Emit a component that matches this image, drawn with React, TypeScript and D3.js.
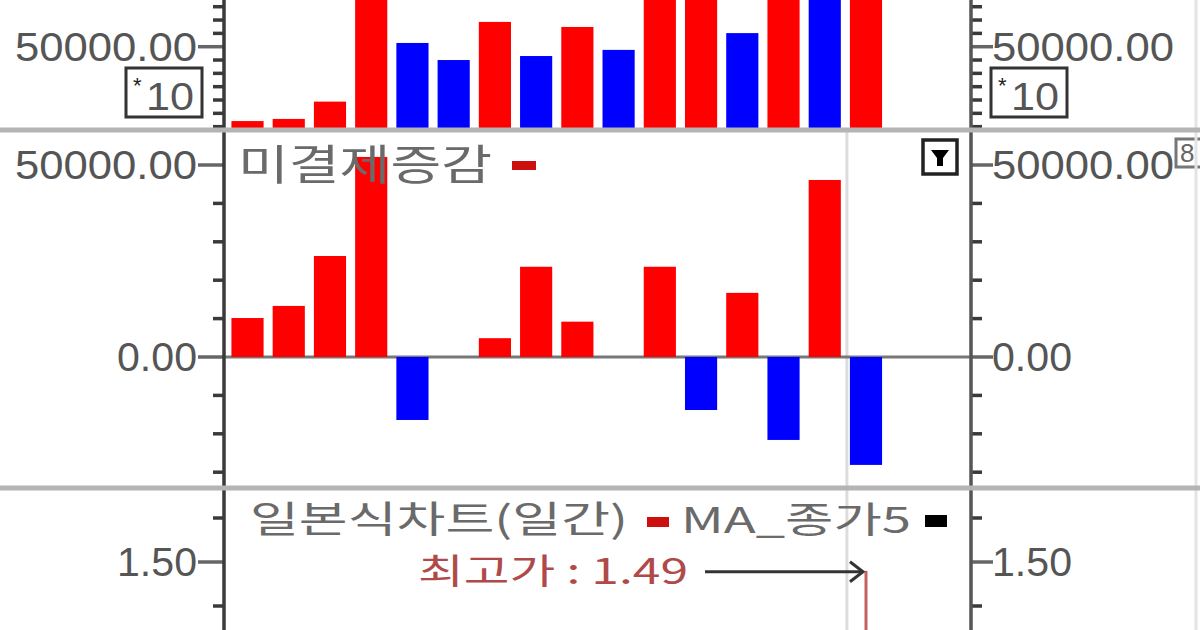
import React from 'react';
import * as d3 from 'd3';

// ---- data ----
const days = ['01', '02', '03', '04', '05', '06', '07', '08', '09', '10', '11', '12', '13', '14', '15', '16'];
// top panel (volume, x10)
const volume = [22100, 22900, 29400, 72000, 51400, 45000, 59300, 46500, 57400, 48800, 75000, 70000, 55100, 72000, 80000, 78000];
const volumeDir = ['up', 'up', 'up', 'up', 'down', 'down', 'up', 'down', 'up', 'down', 'up', 'up', 'down', 'up', 'down', 'up'];
// middle panel (open interest change)
const oiChange = [10150, 13300, 26300, 52100, -16400, 0, 4900, 23500, 9200, 0, 23500, -13800, 16700, -21600, 46100, -28100];
// bottom panel (candles) – only the last candle is visible
const lastHigh = 1.49;
const lastLow = 1.30;
const volMajorTicks = [50000];
const oiMajorTicks = [0, 50000];
const priceMajorTicks = [1.5];
const oiLegend = '미결제증감';
const priceLegend = '일본식차트(일간)';
const maLegend = 'MA_종가5';
const highLabel = '최고가 : 1.49';

const W = 1200;
const H = 630;
const RED = '#ff0000';
const BLUE = '#0000ff';
const AXIS = '#3a3a3a';
const TXT = '#555';
const NUMFONT = '"Liberation Sans", Arial, sans-serif';
const KRFONT = '"Noto Sans CJK KR", "Noto Sans", sans-serif';

export default function App() {
  const leftX = 224;
  const rightX = 971;
  const sep1 = 130;
  const sep2 = 488;

  const x = d3.scaleBand<string>().domain(days).range([226.9, 886.6]).paddingInner(0.22).paddingOuter(0.11);
  const bw = x.bandwidth();

  const yVol = d3.scaleLinear().domain([18750, 50000]).range([130, 46.7]);
  const yOI = d3.scaleLinear().domain([0, 50000]).range([357, 165]);
  const yPrice = d3.scaleLinear().domain([1.45, 1.5]).range([606, 562]);

  const volMinor = d3.range(20000, 70001, 5000).filter(v => !volMajorTicks.includes(v)).filter(v => yVol(v) > 2 && yVol(v) < sep1 - 3);
  const oiMinor = d3.range(-30000, 60001, 10000).filter(v => !oiMajorTicks.includes(v)).filter(v => yOI(v) > sep1 + 4 && yOI(v) < sep2 - 4);
  const priceMinor = d3.range(1.4, 1.601, 0.05).filter(v => Math.abs(v - 1.5) > 0.001).filter(v => yPrice(v) > sep2 + 4 && yPrice(v) < H);

  const fmt2 = d3.format('.2f');

  const minorTicks = (ys: number[], key: string) => (
    <g key={key}>
      {ys.map((yy, i) => (
        <g key={i}>
          <line x1={leftX - 11} x2={leftX} y1={yy} y2={yy} stroke={AXIS} strokeWidth={3.5} />
          <line x1={rightX} x2={rightX + 11} y1={yy} y2={yy} stroke={AXIS} strokeWidth={3.5} />
        </g>
      ))}
    </g>
  );

  const majorTick = (yy: number, label: string, key: string, wide: boolean) => (
    <g key={key}>
      <line x1={leftX - 26} x2={leftX} y1={yy} y2={yy} stroke="#666" strokeWidth={3.5} />
      <line x1={rightX} x2={rightX + 22} y1={yy} y2={yy} stroke="#666" strokeWidth={3.5} />
      <text x={197} y={yy} dy="0.36em" textAnchor="end" fontFamily={NUMFONT} fontSize={40} fill={TXT}
        textLength={wide ? 182 : 80} lengthAdjust="spacingAndGlyphs">{label}</text>
      <text x={992} y={yy} dy="0.36em" textAnchor="start" fontFamily={NUMFONT} fontSize={40} fill={TXT}
        textLength={wide ? 182 : 80} lengthAdjust="spacingAndGlyphs">{label}</text>
    </g>
  );

  const lastDay = days[days.length - 1];
  const wickX = (x(lastDay) as number) + bw / 2;
  const crossX = (x(lastDay) as number) - 3;
  const hiY = yPrice(lastHigh);

  return (
    <svg width={W} height={H} style={{ position: 'absolute', left: 0, top: 0, background: '#fff' }}>
      <rect x={0} y={0} width={W} height={H} fill="#fff" />

      {/* crosshair vertical line */}
      <line x1={crossX} x2={crossX} y1={sep1 + 2} y2={H} stroke="#dcdcdc" strokeWidth={3} />

      {/* ---- top panel: volume ---- */}
      <g>
        {volume.map((v, i) => (
          <rect key={i} x={x(days[i])} y={yVol(v)} width={bw} height={Math.max(0, sep1 - 2 - yVol(v))}
            fill={volumeDir[i] === 'up' ? RED : BLUE} />
        ))}
        {minorTicks(volMinor.map(v => yVol(v)), 'vmin')}
        {volMajorTicks.map(v => majorTick(yVol(v), fmt2(v), 'vmaj' + v, true))}
        {/* *10 boxes */}
        {[{ x0: 126 }, { x0: 991 }].map((b, i) => (
          <g key={i}>
            <rect x={b.x0} y={68} width={76} height={49} fill="#fff" stroke="#333" strokeWidth={3} />
            <text x={b.x0 + 7} y={93} fontFamily={NUMFONT} fontSize={22} fill="#222">*</text>
            <text x={b.x0 + 20} y={110} fontFamily={NUMFONT} fontSize={38} fill={TXT} textLength={48} lengthAdjust="spacingAndGlyphs">10</text>
          </g>
        ))}
      </g>

      {/* ---- middle panel: open interest change ---- */}
      <g>
        <line x1={leftX} x2={rightX} y1={yOI(0)} y2={yOI(0)} stroke="#777" strokeWidth={3} />
        {oiChange.map((v, i) => (
          <rect key={i} x={x(days[i])} y={Math.min(yOI(v), yOI(0))} width={bw} height={Math.abs(yOI(v) - yOI(0))}
            fill={v >= 0 ? RED : BLUE} />
        ))}
        <text x={238} y={165} dy="0.36em" fontFamily={KRFONT} fontSize={42} fill="#6a6a6a" textLength={254} lengthAdjust="spacingAndGlyphs">{oiLegend}</text>
        <rect x={512} y={161} width={24} height={9} fill="#cc1010" />
        {minorTicks(oiMinor.map(v => yOI(v)), 'omin')}
        {oiMajorTicks.map(v => majorTick(yOI(v), fmt2(v), 'omaj' + v, v !== 0))}
        {/* panel buttons */}
        <rect x={923} y={140} width={34} height={34} fill="#fff" stroke="#222" strokeWidth={3.5} />
        <path d="M931,150 L949,150 L940,162 Z" fill="#000" />
        <rect x={937} y={157} width={6} height={9} fill="#000" />
        <rect x={1176} y={139} width={26} height={28} fill="#fff" stroke="#777" strokeWidth={3} />
        <text x={1180} y={162} fontFamily={NUMFONT} fontSize={26} fill="#666">8</text>
      </g>

      {/* ---- bottom panel: price ---- */}
      <g>
        <line x1={wickX} x2={wickX} y1={hiY} y2={yPrice(lastLow)} stroke="#c46060" strokeWidth={3} />
        <text x={250} y={520} dy="0.36em" fontFamily={KRFONT} fontSize={37} fill="#6a6a6a" textLength={378} lengthAdjust="spacingAndGlyphs">{priceLegend}</text>
        <rect x={647} y={517} width={22} height={10} fill="#cc1010" />
        <text x={681} y={520} dy="0.36em" fontFamily={KRFONT} fontSize={36} fill="#6a6a6a" textLength={230} lengthAdjust="spacingAndGlyphs">{maLegend}</text>
        <rect x={925} y={515} width={22} height={12} fill="#000" />
        <text x={688} y={hiY + 2} dy="0.32em" textAnchor="end" fontFamily={KRFONT} fontSize={35} fill="#b04a4a" textLength={270} lengthAdjust="spacingAndGlyphs">{highLabel}</text>
        <line x1={705} x2={wickX - 4} y1={hiY + 1} y2={hiY + 1} stroke="#333" strokeWidth={3} />
        <path d={`M${wickX - 16},${hiY - 9} L${wickX - 3},${hiY + 1} L${wickX - 16},${hiY + 11}`} fill="none" stroke="#333" strokeWidth={3} />
        {minorTicks(priceMinor.map(v => yPrice(v)), 'pmin')}
        {priceMajorTicks.map(v => majorTick(yPrice(v), fmt2(v), 'pmaj' + v, false))}
      </g>

      {/* axes */}
      <line x1={leftX} x2={leftX} y1={0} y2={H} stroke={AXIS} strokeWidth={3.5} />
      <line x1={rightX} x2={rightX} y1={0} y2={H} stroke="#555" strokeWidth={3.5} />
      <line x1={1196} x2={1196} y1={0} y2={H} stroke="#e4e4e4" strokeWidth={3} />

      {/* panel separators */}
      <rect x={0} y={sep1 - 2.5} width={W} height={5} fill="#b4b4b4" />
      <rect x={0} y={sep2 - 2.5} width={W} height={5} fill="#b4b4b4" />
    </svg>
  );
}
